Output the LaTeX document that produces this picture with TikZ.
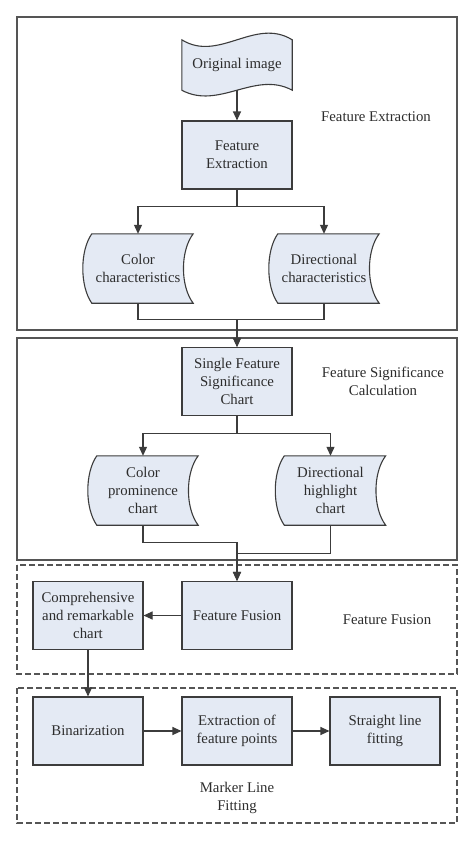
\documentclass[tikz,border=0pt]{standalone}
\usepackage{fontspec}
\setmainfont{Liberation Serif}
\usetikzlibrary{arrows.meta,backgrounds}
\definecolor{boxfill}{RGB}{228,234,244}
\definecolor{linec}{RGB}{60,60,60}
\definecolor{framec}{RGB}{85,85,85}
\definecolor{txtc}{RGB}{45,45,45}
\tikzset{
  procbox/.style={rectangle, draw=linec, line width=1.1pt, fill=boxfill, minimum width=110pt, minimum height=68pt, inner sep=0pt, align=center, text=txtc},
  datanode/.style={rectangle, draw=none, minimum width=110pt, minimum height=69pt, inner sep=0pt, align=center, text=txtc},
  shapeline/.style={draw=linec, line width=1.1pt, fill=boxfill},
  framebox/.style={draw=framec, line width=1.3pt},
  dashframe/.style={draw=framec, line width=1.3pt, dash pattern=on 6pt off 3pt},
  arr/.style={draw=linec, line width=1.1pt, -{Triangle[length=9pt,width=8pt]}},
  lbl/.style={align=center, text=txtc, inner sep=0pt}
}
\newcommand{\datashape}[1]{%
  \path[shapeline] ([xshift=9pt]#1.north west) -- (#1.north east)
    .. controls +(-13,17) and +(-13,-17) .. (#1.south east)
    -- ([xshift=9pt]#1.south west)
    .. controls +(-12,-17) and +(-12,17) .. ([xshift=9pt]#1.north west) -- cycle;}
\begin{document}
\begin{tikzpicture}[x=1pt,y=-1pt,font=\fontsize{14.8}{18}\selectfont]
\useasboundingbox (0,0) rectangle (474,841);
% frames
\draw[framebox] (17,17) rectangle (457,330);
\draw[framebox] (17,338) rectangle (457,560);
\draw[dashframe] (17,565) rectangle (457,674);
\draw[dashframe] (17,688) rectangle (457,823);

% nodes
\node[datanode, minimum height=50pt] (oi) at (237,65) {Original image};
\node[procbox] (fe) at (237,155) {Feature\\Extraction};
\node[datanode] (cc) at (138,268.5) {Color\\characteristics};
\node[datanode] (dc) at (324,268.5) {Directional\\characteristics};
\node[procbox] (sf) at (237,381.5) {Single Feature\\Significance\\Chart};
\node[datanode] (cp) at (143,490.5) {Color\\prominence\\chart};
\node[datanode] (dh) at (330.5,490.5) {Directional\\highlight\\chart};
\node[procbox] (ff) at (237,615.5) {Feature Fusion};
\node[procbox] (cr) at (88,615.5) {Comprehensive\\and remarkable\\chart};
\node[procbox] (bi) at (88,731) {Binarization};
\node[procbox] (ex) at (237,731) {Extraction of\\feature points};
\node[procbox] (sl) at (385,731) {Straight line\\fitting};

% labels
\node[lbl] (l1) at (376,117) {Feature Extraction};
\node[lbl] (l2) at (383,381) {Feature Significance\\Calculation};
\node[lbl] (l3) at (387,620) {Feature Fusion};
\node[lbl] (l4) at (237,798) {Marker Line\\Fitting};

% shapes behind text
\begin{scope}[on background layer]
\fill[white] (0,0) rectangle (474,841);
\path[shapeline] (oi.north west)
   .. controls +(37,23) and +(-37,-23) .. (oi.north east)
   -- (oi.south east)
   .. controls +(-37,-20) and +(37,20) .. (oi.south west)
   -- cycle;
\datashape{cc}
\datashape{dc}
\datashape{cp}
\datashape{dh}
\end{scope}

% connectors
\draw[arr] (oi.south) -- (fe.north);
\draw[arr] (fe.south) -- ++(0,17) -| (cc.north);
\draw[arr] (fe.south) -- ++(0,17) -| (dc.north);
\draw[arr] (cc.south) -- ++(0,16) -| (sf.north);
\draw[arr] (dc.south) -- ++(0,16) -| (sf.north);
\draw[arr] (sf.south) -- ++(0,17) -| (cp.north);
\draw[arr] (sf.south) -- ++(0,17) -| (dh.north);
\draw[arr] (cp.south) -- ++(0,17) -| (ff.north);
\draw[arr] (dh.south) -- ++(0,28) -| (ff.north);
\draw[arr] (ff.west) -- (cr.east);
\draw[arr] (cr.south) -- (bi.north);
\draw[arr] (bi.east) -- (ex.west);
\draw[arr] (ex.east) -- (sl.west);
\end{tikzpicture}
\end{document}
